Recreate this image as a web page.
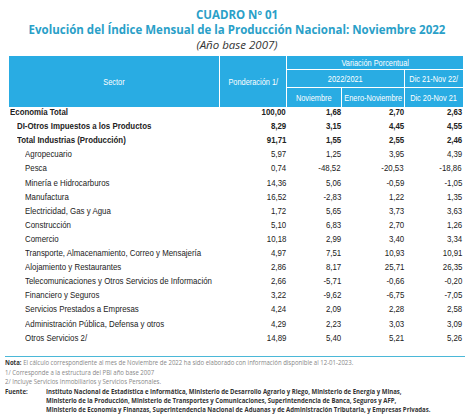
<!DOCTYPE html><html><head><meta charset="utf-8">
<script src="https://cdn.jsdelivr.net/npm/chart.js"></script>
<style>
body{margin:0;background:#fff;width:474px;height:418px;overflow:hidden;position:relative;font-family:"Liberation Sans",sans-serif;}
.t{position:absolute;left:0;width:474px;text-align:center;font-family:"Open Sans",sans-serif;color:#2aa0c8;font-weight:bold;line-height:13px;}
.h{position:absolute;background:#29ace3;color:#fff;font-size:9px;display:flex;align-items:center;justify-content:center;white-space:nowrap;}
.h span{display:inline-block;transform:scaleX(0.82);}
.r{position:absolute;font-size:9.4px;color:#222;white-space:nowrap;line-height:11px;}
.l{transform:scaleX(0.84);transform-origin:left;}
.rr{transform:scaleX(0.84);transform-origin:right;}
.n{position:absolute;font-family:"Open Sans",sans-serif;color:#888;white-space:nowrap;font-size:7px;line-height:9px;transform:scaleX(0.86);transform-origin:left;}
</style></head><body>
<div class="t" style="top:8px;font-size:11.5px">CUADRO Nº 01</div>
<div class="t" style="top:23px;font-size:11.5px">Evolución del Índice Mensual de la Producción Nacional: Noviembre 2022</div>
<div class="t" style="top:38px;font-size:11.5px;font-weight:normal;font-style:italic;color:#333">(Año base 2007)</div>
<div id="tbl"></div>
<canvas id="c" style="display:none"></canvas>
<script>
const sectors=["Economía Total","DI-Otros Impuestos a los Productos","Total  Industrias (Producción)","Agropecuario","Pesca","Minería e Hidrocarburos","Manufactura","Electricidad, Gas y Agua","Construcción","Comercio","Transporte, Almacenamiento, Correo y Mensajería","Alojamiento y Restaurantes","Telecomunicaciones y Otros Servicios de Información","Financiero y Seguros","Servicios Prestados a Empresas","Administración Pública, Defensa y otros","Otros Servicios 2/"];
const ponderacion=["100,00","8,29","91,71","5,97","0,74","14,36","16,52","1,72","5,10","10,18","4,97","2,86","2,66","3,22","4,24","4,29","14,89"];
const noviembre=["1,68","3,15","1,55","1,25","-48,52","5,06","-2,83","5,65","6,83","2,99","7,51","8,17","-5,71","-9,62","2,09","2,23","5,40"];
const eneroNov=["2,70","4,45","2,55","3,95","-20,53","-0,59","1,22","3,73","2,70","3,40","10,93","25,71","-0,66","-6,75","2,28","3,03","5,21"];
const dic=["2,63","4,55","2,46","4,39","-18,86","-1,05","1,35","3,63","1,26","3,34","10,91","26,35","-0,20","-7,05","2,58","3,09","5,26"];
const notes=[["<b style='color:#333'>Nota:</b>  El cálculo correspondiente al mes de Noviembre de 2022 ha sido elaborado con información disponible al 12-01-2023.",5,358],
["1/ Corresponde a la estructura del PBI año base 2007",5,368],["2/ Incluye Servicios Inmobiliarios y Servicios Personales.",5,377],
["<b style='color:#333'>Fuente:</b>",5,387],
["<b style='color:#333'>Instituto Nacional de Estadística e Informática, Ministerio de Desarrollo Agrario y Riego, Ministerio de Energía y Minas,</b>",46,387],
["<b style='color:#333'>Ministerio de la Producción, Ministerio de Transportes y Comunicaciones, Superintendencia de Banca, Seguros y AFP,</b>",46,396],
["<b style='color:#333'>Ministerio de Economía y Finanzas, Superintendencia Nacional de Aduanas y de Administración Tributaria, y Empresas Privadas.</b>",46,405]];
let h='';
const H=(x,y,w,hh,t)=>h+=`<div class="h" style="left:${x}px;top:${y}px;width:${w}px;height:${hh}px"><span>${t}</span></div>`;
H(9,56,210,51,"Sector");H(220,56,66,51,"Ponderación 1/");H(287,56,176,13,"Variación Porcentual");
H(287,70,117,17,"2022/2021");H(405,70,58,17,"Dic 21-Nov 22/");H(287,88,54,19,"Noviembre");H(342,88,62,19,"Enero-Noviembre");H(405,88,58,19,"Dic 20-Nov 21");
sectors.forEach((s,i)=>{const y=106+i*14.1;const bold=i<3;const ind=i==0?10:(i<3?17:25);
 h+=`<div class="r l" style="left:${ind}px;top:${y}px;${bold?'font-weight:bold':''}">${s}</div>`;
 [[ponderacion,286],[noviembre,341],[eneroNov,404],[dic,462]].forEach(([a,x])=>h+=`<div class="r rr" style="right:${474-x}px;top:${y}px;${bold?'font-weight:bold':''}">${a[i]}</div>`);});
h+=`<div style="position:absolute;left:5px;top:356px;width:460px;height:1px;background:#4bb8d8"></div>`;
notes.forEach(([t,x,y])=>h+=`<div class="n" style="left:${x}px;top:${y}px">${t}</div>`);
document.getElementById('tbl').innerHTML=h;
</script></body></html>
